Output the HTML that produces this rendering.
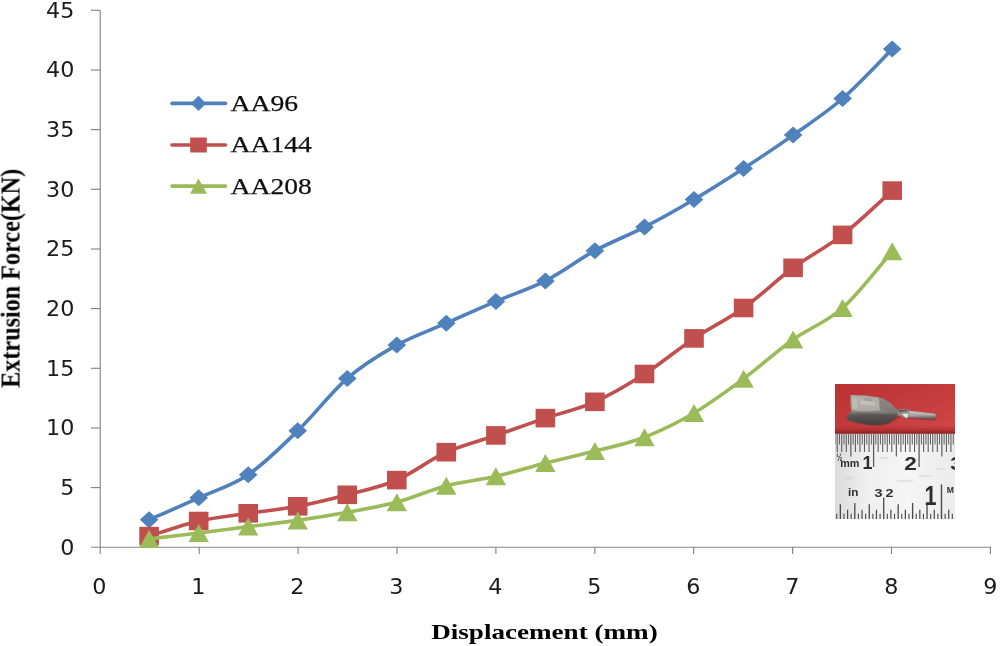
<!DOCTYPE html>
<html lang="en"><head><meta charset="utf-8"><title>Extrusion Force vs Displacement</title>
<style>
html,body{margin:0;padding:0;background:#fff;}
body{width:1000px;height:646px;overflow:hidden;}
svg{display:block;}
.tick{font-family:"DejaVu Sans","Liberation Sans",sans-serif;font-size:20.8px;fill:#1a1a1a;}
.leg{font-family:"Liberation Serif",serif;font-size:23.4px;fill:#111;stroke:#111;stroke-width:0.25px;}
.ttl{font-family:"Liberation Serif",serif;font-weight:bold;font-size:21.5px;fill:#000;}
</style></head><body>
<svg width="1000" height="646" viewBox="0 0 1000 646">
<rect width="1000" height="646" fill="#fff"/>
<defs><filter id="soft" x="0" y="0" width="1000" height="646" filterUnits="userSpaceOnUse"><feGaussianBlur stdDeviation="0.55"/></filter></defs>
<g filter="url(#soft)">

<g stroke="#848484" stroke-width="1.15" fill="none">
<path d="M100.2 10.3V554"/>
<path d="M91 547.2H991"/>
<path d="M91 487.6H100"/>
<path d="M91 428.0H100"/>
<path d="M91 368.3H100"/>
<path d="M91 308.6H100"/>
<path d="M91 249.0H100"/>
<path d="M91 189.3H100"/>
<path d="M91 129.6H100"/>
<path d="M91 70.0H100"/>
<path d="M91 10.3H100"/>
<path d="M199.2 547V554"/>
<path d="M298.1 547V554"/>
<path d="M397.0 547V554"/>
<path d="M495.9 547V554"/>
<path d="M594.8 547V554"/>
<path d="M693.7 547V554"/>
<path d="M792.6 547V554"/>
<path d="M891.5 547V554"/>
<path d="M990.4 547V554"/>
</g>
<g class="tick" text-anchor="end">
<text transform="translate(74.4 554.6) scale(1.07 1)">0</text>
<text transform="translate(74.4 494.9) scale(1.07 1)">5</text>
<text transform="translate(74.4 435.3) scale(1.07 1)">10</text>
<text transform="translate(74.4 375.6) scale(1.07 1)">15</text>
<text transform="translate(74.4 315.9) scale(1.07 1)">20</text>
<text transform="translate(74.4 256.3) scale(1.07 1)">25</text>
<text transform="translate(74.4 196.6) scale(1.07 1)">30</text>
<text transform="translate(74.4 136.9) scale(1.07 1)">35</text>
<text transform="translate(74.4 77.3) scale(1.07 1)">40</text>
<text transform="translate(74.4 17.6) scale(1.07 1)">45</text>
</g>
<g class="tick" text-anchor="middle">
<text transform="translate(99.2 594.3) scale(1.07 1)">0</text>
<text transform="translate(198.2 594.3) scale(1.07 1)">1</text>
<text transform="translate(297.2 594.3) scale(1.07 1)">2</text>
<text transform="translate(396.2 594.3) scale(1.07 1)">3</text>
<text transform="translate(495.2 594.3) scale(1.07 1)">4</text>
<text transform="translate(594.2 594.3) scale(1.07 1)">5</text>
<text transform="translate(693.2 594.3) scale(1.07 1)">6</text>
<text transform="translate(792.2 594.3) scale(1.07 1)">7</text>
<text transform="translate(891.2 594.3) scale(1.07 1)">8</text>
<text transform="translate(990.2 594.3) scale(1.07 1)">9</text>
</g>
<path d="M149.1 519.8 C157.4 516.1 182.2 505.3 198.7 497.8 C215.2 490.3 231.7 485.9 248.2 474.7 C264.7 463.5 281.2 446.9 297.7 430.8 C314.3 414.8 330.8 392.7 347.3 378.4 C363.8 364.1 380.3 354.3 396.8 345.1 C413.3 335.9 429.8 330.5 446.3 323.2 C462.9 315.9 479.4 308.4 495.9 301.4 C512.4 294.3 528.9 289.3 545.4 280.9 C561.9 272.4 578.4 259.7 594.9 250.7 C611.5 241.7 628.0 235.6 644.5 227.1 C661.0 218.6 677.5 209.3 694.0 199.5 C710.5 189.7 727.0 179.2 743.6 168.5 C760.1 157.8 776.6 146.8 793.1 135.1 C809.6 123.4 826.1 112.8 842.6 98.5 C859.1 84.2 883.9 57.3 892.2 49.1" fill="none" stroke="#4f81bd" stroke-width="3.6" stroke-linecap="round" stroke-linejoin="round"/>
<g fill="#4f81bd">
<path d="M139.8 519.8L149.1 511.3L158.4 519.8L149.1 528.3Z"/>
<path d="M189.4 497.8L198.7 489.3L208.0 497.8L198.7 506.3Z"/>
<path d="M238.9 474.7L248.2 466.2L257.5 474.7L248.2 483.2Z"/>
<path d="M288.4 430.8L297.7 422.3L307.0 430.8L297.7 439.3Z"/>
<path d="M338.0 378.4L347.3 369.9L356.6 378.4L347.3 386.9Z"/>
<path d="M387.5 345.1L396.8 336.6L406.1 345.1L396.8 353.6Z"/>
<path d="M437.0 323.2L446.3 314.7L455.6 323.2L446.3 331.7Z"/>
<path d="M486.6 301.4L495.9 292.9L505.2 301.4L495.9 309.9Z"/>
<path d="M536.1 280.9L545.4 272.4L554.7 280.9L545.4 289.4Z"/>
<path d="M585.6 250.7L594.9 242.2L604.2 250.7L594.9 259.2Z"/>
<path d="M635.2 227.1L644.5 218.6L653.8 227.1L644.5 235.6Z"/>
<path d="M684.7 199.5L694.0 191.0L703.3 199.5L694.0 208.0Z"/>
<path d="M734.3 168.5L743.6 160.0L752.9 168.5L743.6 177.0Z"/>
<path d="M783.8 135.1L793.1 126.6L802.4 135.1L793.1 143.6Z"/>
<path d="M833.3 98.5L842.6 90.0L851.9 98.5L842.6 107.0Z"/>
<path d="M882.9 49.1L892.2 40.6L901.5 49.1L892.2 57.6Z"/>
</g>
<path d="M149.1 536.1 C157.4 533.6 182.2 524.8 198.7 521.0 C215.2 517.2 231.7 515.8 248.2 513.3 C264.7 510.8 281.2 509.4 297.7 506.3 C314.3 503.2 330.8 499.2 347.3 494.8 C363.8 490.4 380.3 487.2 396.8 480.1 C413.3 473.0 429.8 459.6 446.3 452.2 C462.9 444.8 479.4 441.1 495.9 435.4 C512.4 429.7 528.9 423.7 545.4 418.1 C561.9 412.5 578.4 409.2 594.9 401.8 C611.5 394.4 628.0 384.6 644.5 374.0 C661.0 363.4 677.5 349.4 694.0 338.4 C710.5 327.4 727.0 319.8 743.6 308.0 C760.1 296.2 776.6 280.0 793.1 267.8 C809.6 255.6 826.1 247.8 842.6 234.9 C859.1 222.0 883.9 198.0 892.2 190.6" fill="none" stroke="#c0504d" stroke-width="3.6" stroke-linecap="round" stroke-linejoin="round"/>
<g fill="#c0504d">
<rect x="139.3" y="526.8" width="19.6" height="18.6"/>
<rect x="188.9" y="511.7" width="19.6" height="18.6"/>
<rect x="238.4" y="504.0" width="19.6" height="18.6"/>
<rect x="287.9" y="497.0" width="19.6" height="18.6"/>
<rect x="337.5" y="485.5" width="19.6" height="18.6"/>
<rect x="387.0" y="470.8" width="19.6" height="18.6"/>
<rect x="436.5" y="442.9" width="19.6" height="18.6"/>
<rect x="486.1" y="426.1" width="19.6" height="18.6"/>
<rect x="535.6" y="408.8" width="19.6" height="18.6"/>
<rect x="585.1" y="392.5" width="19.6" height="18.6"/>
<rect x="634.7" y="364.7" width="19.6" height="18.6"/>
<rect x="684.2" y="329.1" width="19.6" height="18.6"/>
<rect x="733.8" y="298.7" width="19.6" height="18.6"/>
<rect x="783.3" y="258.5" width="19.6" height="18.6"/>
<rect x="832.8" y="225.6" width="19.6" height="18.6"/>
<rect x="882.4" y="181.3" width="19.6" height="18.6"/>
</g>
<path d="M149.1 538.9 C157.4 537.9 182.2 535.0 198.7 533.0 C215.2 531.0 231.7 528.7 248.2 526.6 C264.7 524.5 281.2 522.8 297.7 520.4 C314.3 518.0 330.8 515.3 347.3 512.3 C363.8 509.3 380.3 506.6 396.8 502.2 C413.3 497.8 429.8 490.0 446.3 485.7 C462.9 481.4 479.4 480.1 495.9 476.3 C512.4 472.5 528.9 467.2 545.4 463.0 C561.9 458.8 578.4 455.4 594.9 451.1 C611.5 446.8 628.0 443.6 644.5 437.2 C661.0 430.8 677.5 422.8 694.0 413.0 C710.5 403.2 727.0 390.9 743.6 378.7 C760.1 366.4 776.6 351.3 793.1 339.5 C809.6 327.7 826.1 322.7 842.6 308.0 C859.1 293.3 883.9 260.7 892.2 251.2" fill="none" stroke="#9bbb59" stroke-width="3.6" stroke-linecap="round" stroke-linejoin="round"/>
<g fill="#9bbb59">
<path d="M149.1 529.9L159.3 547.9L138.9 547.9Z"/>
<path d="M198.7 524.0L208.9 542.0L188.5 542.0Z"/>
<path d="M248.2 517.6L258.4 535.6L238.0 535.6Z"/>
<path d="M297.7 511.4L307.9 529.4L287.5 529.4Z"/>
<path d="M347.3 503.3L357.5 521.3L337.1 521.3Z"/>
<path d="M396.8 493.2L407.0 511.2L386.6 511.2Z"/>
<path d="M446.3 476.7L456.5 494.7L436.1 494.7Z"/>
<path d="M495.9 467.3L506.1 485.3L485.7 485.3Z"/>
<path d="M545.4 454.0L555.6 472.0L535.2 472.0Z"/>
<path d="M594.9 442.1L605.1 460.1L584.7 460.1Z"/>
<path d="M644.5 428.2L654.7 446.2L634.3 446.2Z"/>
<path d="M694.0 404.0L704.2 422.0L683.8 422.0Z"/>
<path d="M743.6 369.7L753.8 387.7L733.4 387.7Z"/>
<path d="M793.1 330.5L803.3 348.5L782.9 348.5Z"/>
<path d="M842.6 299.0L852.8 317.0L832.4 317.0Z"/>
<path d="M892.2 242.2L902.4 260.2L882.0 260.2Z"/>
</g>
<path d="M172 103.4H225.5" stroke="#4f81bd" stroke-width="3.6" stroke-linecap="round"/>
<g fill="#4f81bd"><path d="M190.8 103.4L198.5 95.7L206.2 103.4L198.5 111.1Z"/></g>
<path d="M172 145.0H225.5" stroke="#c0504d" stroke-width="3.6" stroke-linecap="round"/>
<g fill="#c0504d"><rect x="190.2" y="137.5" width="16.6" height="15.0"/></g>
<path d="M172 186.1H225.5" stroke="#9bbb59" stroke-width="3.6" stroke-linecap="round"/>
<g fill="#9bbb59"><path d="M198.5 178.5L207.0 193.7L190.0 193.7Z"/></g>
<text class="leg" x="230.6" y="111.0" textLength="67.6" lengthAdjust="spacingAndGlyphs">AA96</text>
<text class="leg" x="230.6" y="152.4" textLength="81.2" lengthAdjust="spacingAndGlyphs">AA144</text>
<text class="leg" x="230.6" y="194.0" textLength="81.2" lengthAdjust="spacingAndGlyphs">AA208</text>
<text class="ttl" x="431.2" y="639.3" textLength="226.5" lengthAdjust="spacingAndGlyphs">Displacement (mm)</text>
<g transform="translate(19.5 387.8) rotate(-90) scale(1 1.27)"><text class="ttl" x="0" y="0" textLength="219" lengthAdjust="spacingAndGlyphs">Extrusion Force(KN)</text></g>
</g>
<defs>
<linearGradient id="gr" x1="0" y1="0" x2="1" y2="1"><stop offset="0" stop-color="#b93233"/><stop offset="0.6" stop-color="#c63d3e"/><stop offset="1" stop-color="#d24a48"/></linearGradient>
<linearGradient id="gs" x1="0" y1="0" x2="0" y2="1"><stop offset="0" stop-color="#c23a3a" stop-opacity="0"/><stop offset="1" stop-color="#8a1a1c"/></linearGradient>
<linearGradient id="gb" x1="0" y1="0" x2="0.15" y2="1"><stop offset="0" stop-color="#aaa6a2"/><stop offset="0.45" stop-color="#9b9793"/><stop offset="0.7" stop-color="#7d7876"/><stop offset="1" stop-color="#565152"/></linearGradient>
<linearGradient id="gd" x1="0" y1="0" x2="0.1" y2="1"><stop offset="0" stop-color="#bdb7b4"/><stop offset="0.55" stop-color="#a9a3a1"/><stop offset="1" stop-color="#5d5556"/></linearGradient>
<linearGradient id="gru" x1="0" y1="0" x2="1" y2="0"><stop offset="0" stop-color="#dadada"/><stop offset="0.25" stop-color="#eeeeee"/><stop offset="0.6" stop-color="#f5f5f5"/><stop offset="1" stop-color="#ebebeb"/></linearGradient>
<linearGradient id="gu" x1="0" y1="0" x2="0" y2="1"><stop offset="0" stop-color="#57514f" stop-opacity="0"/><stop offset="0.3" stop-color="#504b4b" stop-opacity="0.75"/><stop offset="1" stop-color="#454041" stop-opacity="0.95"/></linearGradient>
<filter id="bl" x="-5%" y="-5%" width="110%" height="110%"><feGaussianBlur stdDeviation="0.45"/></filter>
<clipPath id="cp"><rect x="835.2" y="384.2" width="119.8" height="134.6"/></clipPath>
</defs>
<g clip-path="url(#cp)"><g filter="url(#bl)">
<rect x="833.2" y="382.2" width="123.8" height="52" fill="url(#gr)"/>
<rect x="833.2" y="424" width="123.8" height="10" fill="url(#gs)"/>
<path d="M846.3 419.5 L855.7 423.2 L871.5 426.0 L885.1 425.4 L893.5 421.4 L898.8 416.9 L908.2 418.7 L935.0 420.8 L936.8 417.9 L913.5 415.5 L850.5 414.2 Z" fill="#8a2326" opacity="0.5"/>
<path d="M908.0 410.5 L934.5 413.5 Q936.4 414.2 936.2 416.6 Q936.0 419.5 934.3 419.4 L908.0 417.5 Z" fill="url(#gd)"/>
<path d="M909.8 411.7 L934.0 414.5 L933.8 415.5 L909.8 413.0 Z" fill="#d5cfcc" opacity="0.55"/>
<path d="M896.7 409.8 L906.8 408.8 L908.9 410.5 L908.2 417.8 L905.3 418.4 L898.4 415.5 L896.7 414.9 Z" fill="#8f8987"/>
<path d="M898.0 410.5 L906.8 409.5 L907.6 410.7 L898.8 411.9 Z" fill="#5b5455"/>
<path d="M901.7 413.8 L908.2 413.6 L907.4 418.0 L904.9 417.0 Z" fill="#ece7e4"/>
<path d="M850.5 395.1 Q865.2 394.9 878.8 397.2 Q885.1 398.9 889.3 402.2 Q892.5 404.8 894.6 407.4 L897.3 410.0 L897.3 414.9 Q895.6 418.0 892.5 420.5 Q888.8 423.5 884.1 424.3 Q877.8 425.2 871.5 424.9 L855.7 422.2 Q850.0 421.2 846.7 419.5 Q846.3 417.6 847.6 415.5 Q849.2 413.0 851.5 410.7 Q850.7 407.9 850.5 404.8 Z" fill="url(#gb)"/>
<path d="M851.3 396.4 L878.4 398.3 L879.9 410.5 Q865.2 411.9 852.2 410.3 Z" fill="#bcb8b3" opacity="0.65"/>
<path d="M852.4 398.1 L856.8 398.3 L857.6 409.0 L852.8 408.6 Z" fill="#cfcbc6" opacity="0.45"/>
<path d="M879.1 397.7 Q886.2 399.8 890.4 403.7 L896.7 410.3 L896.7 414.2 L889.3 412.1 L879.9 408.6 Z" fill="#7d7976" opacity="0.7"/>
<path d="M859.9 400.6 L874.6 401.9 L875.7 405.6 L861.0 404.8 Z" fill="#d4d0cb" opacity="0.5"/>
<path d="M864.1 398.1 L871.5 398.5 L872.1 401.0 L864.8 400.4 Z" fill="#8e8a87" opacity="0.5"/>
<path d="M846.7 419.5 Q846.5 417.0 848.8 413.6 L851.3 410.9 Q865.2 412.8 879.9 413.2 Q889.3 413.6 897.3 413.2 L897.3 414.9 Q895.6 418.0 892.5 420.5 Q888.8 423.5 884.1 424.3 Q877.8 425.2 871.5 424.9 L855.7 422.2 Q850.0 421.2 846.7 419.5 Z" fill="url(#gu)"/>
<rect x="833.2" y="433.8" width="123.8" height="87.0" fill="url(#gru)"/>
<g fill="#d9d9d9" opacity="0.6"><ellipse cx="884" cy="458" rx="5" ry="1.2"/><ellipse cx="925" cy="476" rx="7" ry="1.5"/><ellipse cx="848" cy="478" rx="6" ry="2"/><ellipse cx="905" cy="481" rx="9" ry="1.4"/><ellipse cx="940" cy="469" rx="5" ry="1.2"/></g>
<g stroke="#5c5c5c" fill="none"><path d="M834.93 433.8V444.5" stroke-width="1.0"/><path d="M837.20 433.8V452.0" stroke-width="1.1"/><path d="M839.48 433.8V444.5" stroke-width="1.0"/><path d="M841.75 433.8V452.0" stroke-width="1.1"/><path d="M844.02 433.8V444.5" stroke-width="1.0"/><path d="M846.30 433.8V452.0" stroke-width="1.1"/><path d="M848.58 433.8V444.5" stroke-width="1.0"/><path d="M850.85 433.8V456.5" stroke-width="1.2"/><path d="M853.12 433.8V444.5" stroke-width="1.0"/><path d="M855.40 433.8V452.0" stroke-width="1.1"/><path d="M857.68 433.8V444.5" stroke-width="1.0"/><path d="M859.95 433.8V452.0" stroke-width="1.1"/><path d="M862.23 433.8V444.5" stroke-width="1.0"/><path d="M864.50 433.8V452.0" stroke-width="1.1"/><path d="M866.77 433.8V444.5" stroke-width="1.0"/><path d="M869.05 433.8V452.0" stroke-width="1.1"/><path d="M871.33 433.8V444.5" stroke-width="1.0"/><path d="M873.60 433.8V467.0" stroke-width="1.3"/><path d="M875.88 433.8V444.5" stroke-width="1.0"/><path d="M878.15 433.8V452.0" stroke-width="1.1"/><path d="M880.43 433.8V444.5" stroke-width="1.0"/><path d="M882.70 433.8V452.0" stroke-width="1.1"/><path d="M884.98 433.8V444.5" stroke-width="1.0"/><path d="M887.25 433.8V452.0" stroke-width="1.1"/><path d="M889.52 433.8V444.5" stroke-width="1.0"/><path d="M891.80 433.8V452.0" stroke-width="1.1"/><path d="M894.08 433.8V444.5" stroke-width="1.0"/><path d="M896.35 433.8V456.5" stroke-width="1.2"/><path d="M898.62 433.8V444.5" stroke-width="1.0"/><path d="M900.90 433.8V452.0" stroke-width="1.1"/><path d="M903.18 433.8V444.5" stroke-width="1.0"/><path d="M905.45 433.8V452.0" stroke-width="1.1"/><path d="M907.73 433.8V444.5" stroke-width="1.0"/><path d="M910.00 433.8V452.0" stroke-width="1.1"/><path d="M912.27 433.8V444.5" stroke-width="1.0"/><path d="M914.55 433.8V452.0" stroke-width="1.1"/><path d="M916.83 433.8V444.5" stroke-width="1.0"/><path d="M919.10 433.8V467.0" stroke-width="1.3"/><path d="M921.38 433.8V444.5" stroke-width="1.0"/><path d="M923.65 433.8V452.0" stroke-width="1.1"/><path d="M925.93 433.8V444.5" stroke-width="1.0"/><path d="M928.20 433.8V452.0" stroke-width="1.1"/><path d="M930.48 433.8V444.5" stroke-width="1.0"/><path d="M932.75 433.8V452.0" stroke-width="1.1"/><path d="M935.02 433.8V444.5" stroke-width="1.0"/><path d="M937.30 433.8V452.0" stroke-width="1.1"/><path d="M939.58 433.8V444.5" stroke-width="1.0"/><path d="M941.85 433.8V456.5" stroke-width="1.2"/><path d="M944.12 433.8V444.5" stroke-width="1.0"/><path d="M946.40 433.8V452.0" stroke-width="1.1"/><path d="M948.68 433.8V444.5" stroke-width="1.0"/><path d="M950.95 433.8V452.0" stroke-width="1.1"/><path d="M953.23 433.8V444.5" stroke-width="1.0"/><path d="M955.50 433.8V452.0" stroke-width="1.1"/></g>
<g stroke="#4a4a4a" fill="none"><path d="M836.74 513.8V520" stroke-width="1.1"/><path d="M840.35 504.3V520" stroke-width="1.3"/><path d="M843.96 513.8V520" stroke-width="1.1"/><path d="M847.58 509.7V520" stroke-width="1.2"/><path d="M851.19 513.8V520" stroke-width="1.1"/><path d="M854.80 503.0V520" stroke-width="1.3"/><path d="M858.41 513.8V520" stroke-width="1.1"/><path d="M862.02 509.7V520" stroke-width="1.2"/><path d="M865.64 513.8V520" stroke-width="1.1"/><path d="M869.25 504.3V520" stroke-width="1.3"/><path d="M872.86 513.8V520" stroke-width="1.1"/><path d="M876.48 509.7V520" stroke-width="1.2"/><path d="M880.09 513.8V520" stroke-width="1.1"/><path d="M883.70 497.4V520" stroke-width="1.3"/><path d="M887.31 513.8V520" stroke-width="1.1"/><path d="M890.92 509.7V520" stroke-width="1.2"/><path d="M894.54 513.8V520" stroke-width="1.1"/><path d="M898.15 504.3V520" stroke-width="1.3"/><path d="M901.76 513.8V520" stroke-width="1.1"/><path d="M905.38 509.7V520" stroke-width="1.2"/><path d="M908.99 513.8V520" stroke-width="1.1"/><path d="M912.60 503.0V520" stroke-width="1.3"/><path d="M916.21 513.8V520" stroke-width="1.1"/><path d="M919.83 509.7V520" stroke-width="1.2"/><path d="M923.44 513.8V520" stroke-width="1.1"/><path d="M927.05 504.3V520" stroke-width="1.3"/><path d="M930.66 513.8V520" stroke-width="1.1"/><path d="M934.27 509.7V520" stroke-width="1.2"/><path d="M937.89 513.8V520" stroke-width="1.1"/><path d="M941.50 484.4V520" stroke-width="1.4"/><path d="M945.11 513.8V520" stroke-width="1.1"/><path d="M948.73 509.7V520" stroke-width="1.2"/><path d="M952.34 513.8V520" stroke-width="1.1"/><path d="M955.95 504.3V520" stroke-width="1.3"/></g>
<g font-family="'Liberation Sans',sans-serif" font-weight="bold" fill="#2e2e2e">
<text x="862.6" y="469" font-size="18">1</text>
<text x="904.2" y="470.2" font-size="18" textLength="12.6" lengthAdjust="spacingAndGlyphs">2</text>
<text x="950.3" y="470.2" font-size="18" textLength="12.6" lengthAdjust="spacingAndGlyphs">3</text>
<text x="836.2" y="460.8" font-size="10.5" textLength="6.2" lengthAdjust="spacingAndGlyphs">½</text>
<text x="840.2" y="467.4" font-size="11" textLength="19.2" lengthAdjust="spacingAndGlyphs">mm</text>
<text x="848" y="496" font-size="10.8" textLength="10.4" lengthAdjust="spacingAndGlyphs">in</text>
<text x="874.6" y="496.8" font-size="10.6" textLength="8" lengthAdjust="spacingAndGlyphs">3</text><text x="885.6" y="496.8" font-size="10.6" textLength="8" lengthAdjust="spacingAndGlyphs">2</text>
<text x="924.6" y="504.6" font-size="28" textLength="12" lengthAdjust="spacingAndGlyphs">1</text>
<text x="946.8" y="492.8" font-size="8.6">M</text>
</g>
</g></g>
</svg></body></html>
